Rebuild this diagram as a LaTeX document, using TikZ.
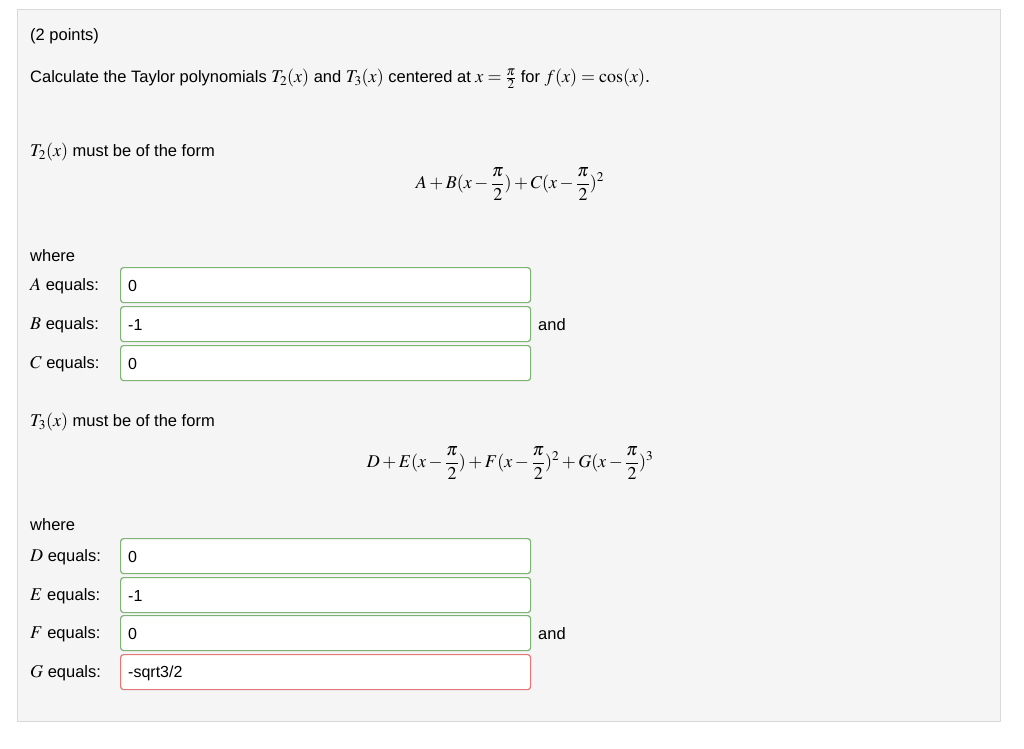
\documentclass[tikz,border=0pt]{standalone}
\usepackage{mathptmx}
\usepackage{fontspec}
\setmainfont{Liberation Sans}
\newcommand{\pitwo}{{\displaystyle\frac{\pi}{2}}}
\definecolor{okg}{RGB}{125,180,115}
\definecolor{badr}{RGB}{225,120,120}
\begin{document}
\begin{tikzpicture}[x=1pt,y=-1pt,
  txt/.style={anchor=west,inner sep=0pt,font=\fontsize{16.5}{19}\selectfont},
  mth/.style={anchor=center,inner sep=0pt,font=\fontsize{18}{21}\selectfont},
  okbox/.style={draw=okg,line width=1.2pt,rounded corners=3pt,fill=white,minimum width=410pt,minimum height=35pt,anchor=north west,inner sep=0pt},
  badbox/.style={okbox,draw=badr},
  val/.style={anchor=west,inner sep=0pt,font=\fontsize{16}{19}\selectfont}]
\useasboundingbox (0,0) rectangle (1024,748);
\fill[white] (0,0) rectangle (1024,748);
\node[draw=gray!30,fill=gray!8,minimum width=983pt,minimum height=712pt,anchor=north west,inner sep=0pt] (panel) at (17,9) {};
\node[txt] (pts) at (30,36) {(2 points)};
\node[txt] (q) at (30,79) {Calculate the Taylor polynomials {\fontsize{18}{21}\selectfont$T_2(x)$} and {\fontsize{18}{21}\selectfont$T_3(x)$} centered at {\fontsize{18}{21}\selectfont$x=\frac{\pi}{2}$} for {\fontsize{18}{21}\selectfont$f(x)=\cos(x)$.}};
\node[txt] (t2) at (30,152) {{\fontsize{18}{21}\selectfont$T_2(x)$} must be of the form};
\node[mth] (f2) at (510,184) {$A+B(x-\pitwo)+C(x-\pitwo)^2$};
\node[txt] (w1) at (30,256) {where};
\foreach \n/\l/\y/\v in {a/A/267/0,b/B/306/-1,c/C/345/0}{
  \node[txt] (l\n) at (30,\y+19) {{\fontsize{18}{21}\selectfont$\l$} equals:};
  \node[okbox] (box\n) at (120,\y) {};
  \node[val] (v\n) at (128,\y+19) {\v};
}
\node[txt] (and1) at (538,325) {and};
\node[txt] (t3) at (30,422) {{\fontsize{18}{21}\selectfont$T_3(x)$} must be of the form};
\node[mth] (f3) at (510,463) {$D+E(x-\pitwo)+F(x-\pitwo)^2+G(x-\pitwo)^3$};
\node[txt] (w2) at (30,525) {where};
\foreach \n/\l/\y/\v in {d/D/538/0,e/E/577/-1,f/F/615/0}{
  \node[txt] (l\n) at (30,\y+19) {{\fontsize{18}{21}\selectfont$\l$} equals:};
  \node[okbox] (box\n) at (120,\y) {};
  \node[val] (v\n) at (128,\y+19) {\v};
}
\node[txt] (lg) at (30,673) {{\fontsize{18}{21}\selectfont$G$} equals:};
\node[badbox] (boxg) at (120,654) {};
\node[val] (vg) at (128,673) {-sqrt3/2};
\node[txt] (and2) at (538,634) {and};
\end{tikzpicture}
\end{document}
